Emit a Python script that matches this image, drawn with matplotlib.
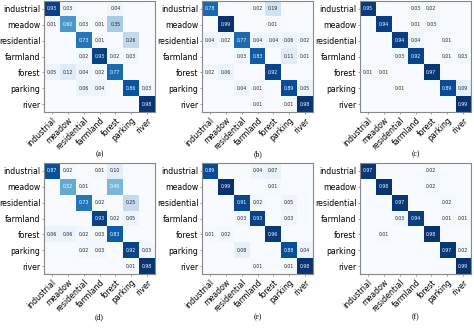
import numpy as np
import matplotlib.pyplot as plt

classes = ["industrial", "meadow", "residential", "farmland", "forest", "parking", "river"]
panel_labels = ["(a)", "(b)", "(c)", "(d)", "(e)", "(f)"]

cm_a = [[0.93, 0.03, 0, 0, 0.04, 0, 0],
        [0.01, 0.60, 0.03, 0.01, 0.35, 0, 0],
        [0, 0, 0.73, 0.01, 0, 0.26, 0],
        [0, 0, 0.02, 0.93, 0.02, 0.03, 0],
        [0.05, 0.12, 0.04, 0.02, 0.77, 0, 0],
        [0, 0, 0.06, 0.04, 0, 0.86, 0.03],
        [0, 0, 0, 0, 0, 0, 0.98]]
cm_b = [[0.78, 0, 0, 0.02, 0.19, 0, 0],
        [0, 0.99, 0, 0, 0.01, 0, 0],
        [0.04, 0.02, 0.77, 0.04, 0.04, 0.06, 0.02],
        [0, 0, 0.03, 0.83, 0, 0.11, 0.01],
        [0.02, 0.06, 0, 0, 0.92, 0, 0],
        [0, 0, 0.04, 0.01, 0, 0.89, 0.05],
        [0, 0, 0, 0.01, 0, 0.01, 0.98]]
cm_c = [[0.95, 0, 0, 0.03, 0.02, 0, 0],
        [0, 0.94, 0, 0.01, 0.03, 0, 0],
        [0, 0, 0.94, 0.04, 0, 0.01, 0],
        [0, 0, 0.03, 0.92, 0, 0.01, 0.03],
        [0.01, 0.01, 0, 0, 0.97, 0, 0],
        [0, 0, 0.01, 0, 0, 0.89, 0.09],
        [0, 0, 0, 0, 0, 0, 0.99]]
cm_d = [[0.87, 0.02, 0, 0.01, 0.10, 0, 0],
        [0, 0.52, 0.01, 0, 0.46, 0, 0],
        [0, 0, 0.73, 0.02, 0, 0.25, 0],
        [0, 0, 0, 0.93, 0.02, 0.05, 0],
        [0.06, 0.06, 0.02, 0.03, 0.83, 0, 0],
        [0, 0, 0.02, 0.03, 0, 0.92, 0.03],
        [0, 0, 0, 0, 0, 0.01, 0.98]]
cm_e = [[0.89, 0, 0, 0.04, 0.07, 0, 0],
        [0, 0.99, 0, 0, 0.01, 0, 0],
        [0, 0, 0.91, 0.02, 0, 0.05, 0],
        [0, 0, 0.03, 0.93, 0, 0.03, 0],
        [0.01, 0.02, 0, 0, 0.96, 0, 0],
        [0, 0, 0.08, 0, 0, 0.88, 0.04],
        [0, 0, 0, 0.01, 0, 0.01, 0.98]]
cm_f = [[0.97, 0, 0, 0, 0.02, 0, 0],
        [0, 0.98, 0, 0, 0.02, 0, 0],
        [0, 0, 0.97, 0, 0, 0.02, 0],
        [0, 0, 0.03, 0.94, 0, 0.01, 0.01],
        [0, 0.01, 0, 0, 0.98, 0, 0],
        [0, 0, 0, 0, 0, 0.97, 0.02],
        [0, 0, 0, 0, 0, 0, 0.99]]
matrices = [cm_a, cm_b, cm_c, cm_d, cm_e, cm_f]

W, H = 474, 329
fig = plt.figure(figsize=(W / 100, H / 100), dpi=100)

# axes boxes in pixels: left, top, width, height
lefts = [44, 202, 360, 44, 202, 360]
tops = [1, 1, 1, 163, 163, 163]
size = 111

for k, cm in enumerate(matrices):
    cm = np.array(cm)
    ax = fig.add_axes([lefts[k] / W, 1 - (tops[k] + size) / H, size / W, size / H])
    ax.imshow(cm, cmap="Blues", vmin=0, vmax=1, aspect="auto")
    for i in range(7):
        for j in range(7):
            if cm[i, j] > 0:
                ax.text(j, i, f"{cm[i, j]:.2f}", ha="center", va="center", fontsize=3.3,
                        color="white" if cm[i, j] > 0.4 else "#222222")
    ax.set_xticks(range(7))
    ax.set_yticks(range(7))
    ax.set_xticklabels(classes, rotation=45, ha="right", rotation_mode="anchor", fontsize=5.6)
    ax.set_yticklabels(classes, fontsize=5.6)
    ax.tick_params(length=1.5, width=0.5, pad=1.2, color="#777777")
    for s in ax.spines.values():
        s.set_color("#888888")
        s.set_linewidth(0.8)
    ax.text(0.5, -0.34 if k < 3 else -0.35, panel_labels[k], transform=ax.transAxes, ha="center",
            va="top", fontsize=5.5, family="Liberation Serif")

fig.text(0.005, -0.012, "Fig. 4.   Confusion matrices of CFAN and PSCA with ResNet34 on the adaptation scenarios. (a) PSCA (A→B), (b) PSCA (B→C), (c) PSCA",
         fontsize=5.5, family="Liberation Serif", color="#555555", va="center")

fig.savefig("out.png", dpi=100)
